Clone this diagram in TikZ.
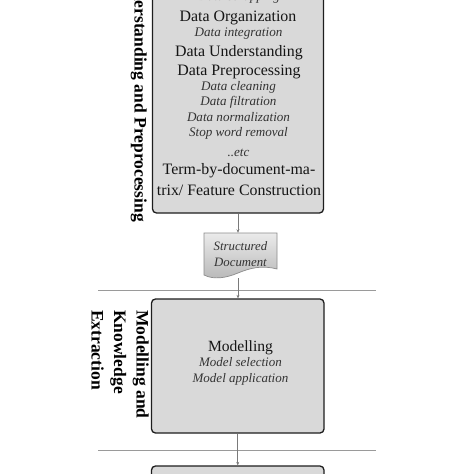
\documentclass[tikz,border=0pt]{standalone}
\usepackage{fontspec}
\setmainfont{Liberation Serif}
\usetikzlibrary{arrows.meta}
\definecolor{boxfill}{HTML}{D9D9D9}
\definecolor{boxline}{HTML}{1E1E1E}
\definecolor{itxt}{HTML}{333333}
\definecolor{mtxt}{HTML}{151515}
\definecolor{connc}{HTML}{7A7A7A}
\definecolor{sepc}{HTML}{9A9A9A}
\tikzset{
  phasebox/.style={draw=boxline, fill=boxfill, line width=1.3pt, rounded corners=4pt, inner sep=0pt},
  bigtxt/.style={anchor=base, inner sep=0pt, text=mtxt, font=\fontsize{15.9}{18}\selectfont},
  ittxt/.style={anchor=base, inner sep=0pt, text=itxt, font=\fontsize{13.1}{15}\selectfont\itshape},
  sidelbl/.style={rotate=-90, inner sep=0pt, text=black, font=\fontsize{17.5}{20}\selectfont\bfseries},
  conn/.style={draw=connc, line width=0.6pt, -{Stealth[length=3.5pt,width=3pt]}},
  sepline/.style={draw=sepc, line width=0.8pt}
}
\begin{document}
\begin{tikzpicture}[x=1pt,y=-1pt]
\clip (0,0) rectangle (474,474);
\fill[white] (0,0) rectangle (474,474);
% separators
\draw[sepline] (98,290.5) -- (376,290.5);
\draw[sepline] (98,450) -- (376,450);
% boxes
\node[phasebox, minimum width=171pt, minimum height=243pt] (b1) at (238,91.5) {};
\node[phasebox, minimum width=172.5pt, minimum height=134pt] (model) at (237.75,366) {};
\node[phasebox, minimum width=172.5pt, minimum height=134pt] (b3) at (237.75,533) {};
% document shape
\node[minimum width=73pt, minimum height=45pt, inner sep=0pt] (doc) at (240.5,255.5) {};
\shade[top color=white!92!black, bottom color=white!72!black, draw=white!55!black, line width=0.7pt]
  (204,233) -- (277,233) -- (277,269)
  .. controls (262,265) and (250,268) .. (238,273)
  .. controls (226,278) and (214,280) .. (204,275) -- cycle;
\node[ittxt, font=\fontsize{12.8}{15}\selectfont\itshape] (docA) at (240.5,250) {Structured};
\node[ittxt, font=\fontsize{12.8}{15}\selectfont\itshape] (docB) at (240.5,266) {Document};
% box 1 text
\node[ittxt] (t0) at (239,0.5) {Data scrapping};
\node[bigtxt] (t1) at (238,21) {Data Organization};
\node[ittxt] (t2) at (238.5,36) {Data integration};
\node[bigtxt] (t3) at (239,56) {Data Understanding};
\node[bigtxt] (t4) at (239,75) {Data Preprocessing};
\node[ittxt] (t5) at (238.5,90.7) {Data cleaning};
\node[ittxt] (t6) at (238.5,105.7) {Data filtration};
\node[ittxt] (t7) at (238.5,121) {Data normalization};
\node[ittxt] (t8) at (238.5,136.7) {Stop word removal};
\node[ittxt] (t9) at (238.5,156.7) {..etc};
\node[bigtxt] (t10) at (239,174.5) {Term-by-document-ma-};
\node[bigtxt] (t11) at (239,195) {trix/ Feature Construction};
% modelling text
\node[bigtxt, font=\fontsize{15.6}{18}\selectfont] (m1) at (240.5,351.5) {Modelling};
\node[ittxt, font=\fontsize{13}{15}\selectfont\itshape] (m2) at (240.5,366.7) {Model selection};
\node[ittxt, font=\fontsize{13}{15}\selectfont\itshape] (m3) at (240.5,382) {Model application};
% side labels
\node[sidelbl, anchor=base east] (L1) at (134.5,222) {Data Understanding and Preprocessing};
\node[sidelbl, anchor=base west] (L2a) at (136.5,310) {Modelling and};
\node[sidelbl, anchor=base west] (L2b) at (114,310) {Knowledge};
\node[sidelbl, anchor=base west] (L2c) at (91.5,310) {Extraction};
% connectors
\draw[conn] (b1.south) -- (b1.south |- doc.north);
\draw[conn] (b1.south |- doc.south) -- (b1.south |- model.north);
\draw[conn] (model.south) -- (b3.north);
\end{tikzpicture}
\end{document}
